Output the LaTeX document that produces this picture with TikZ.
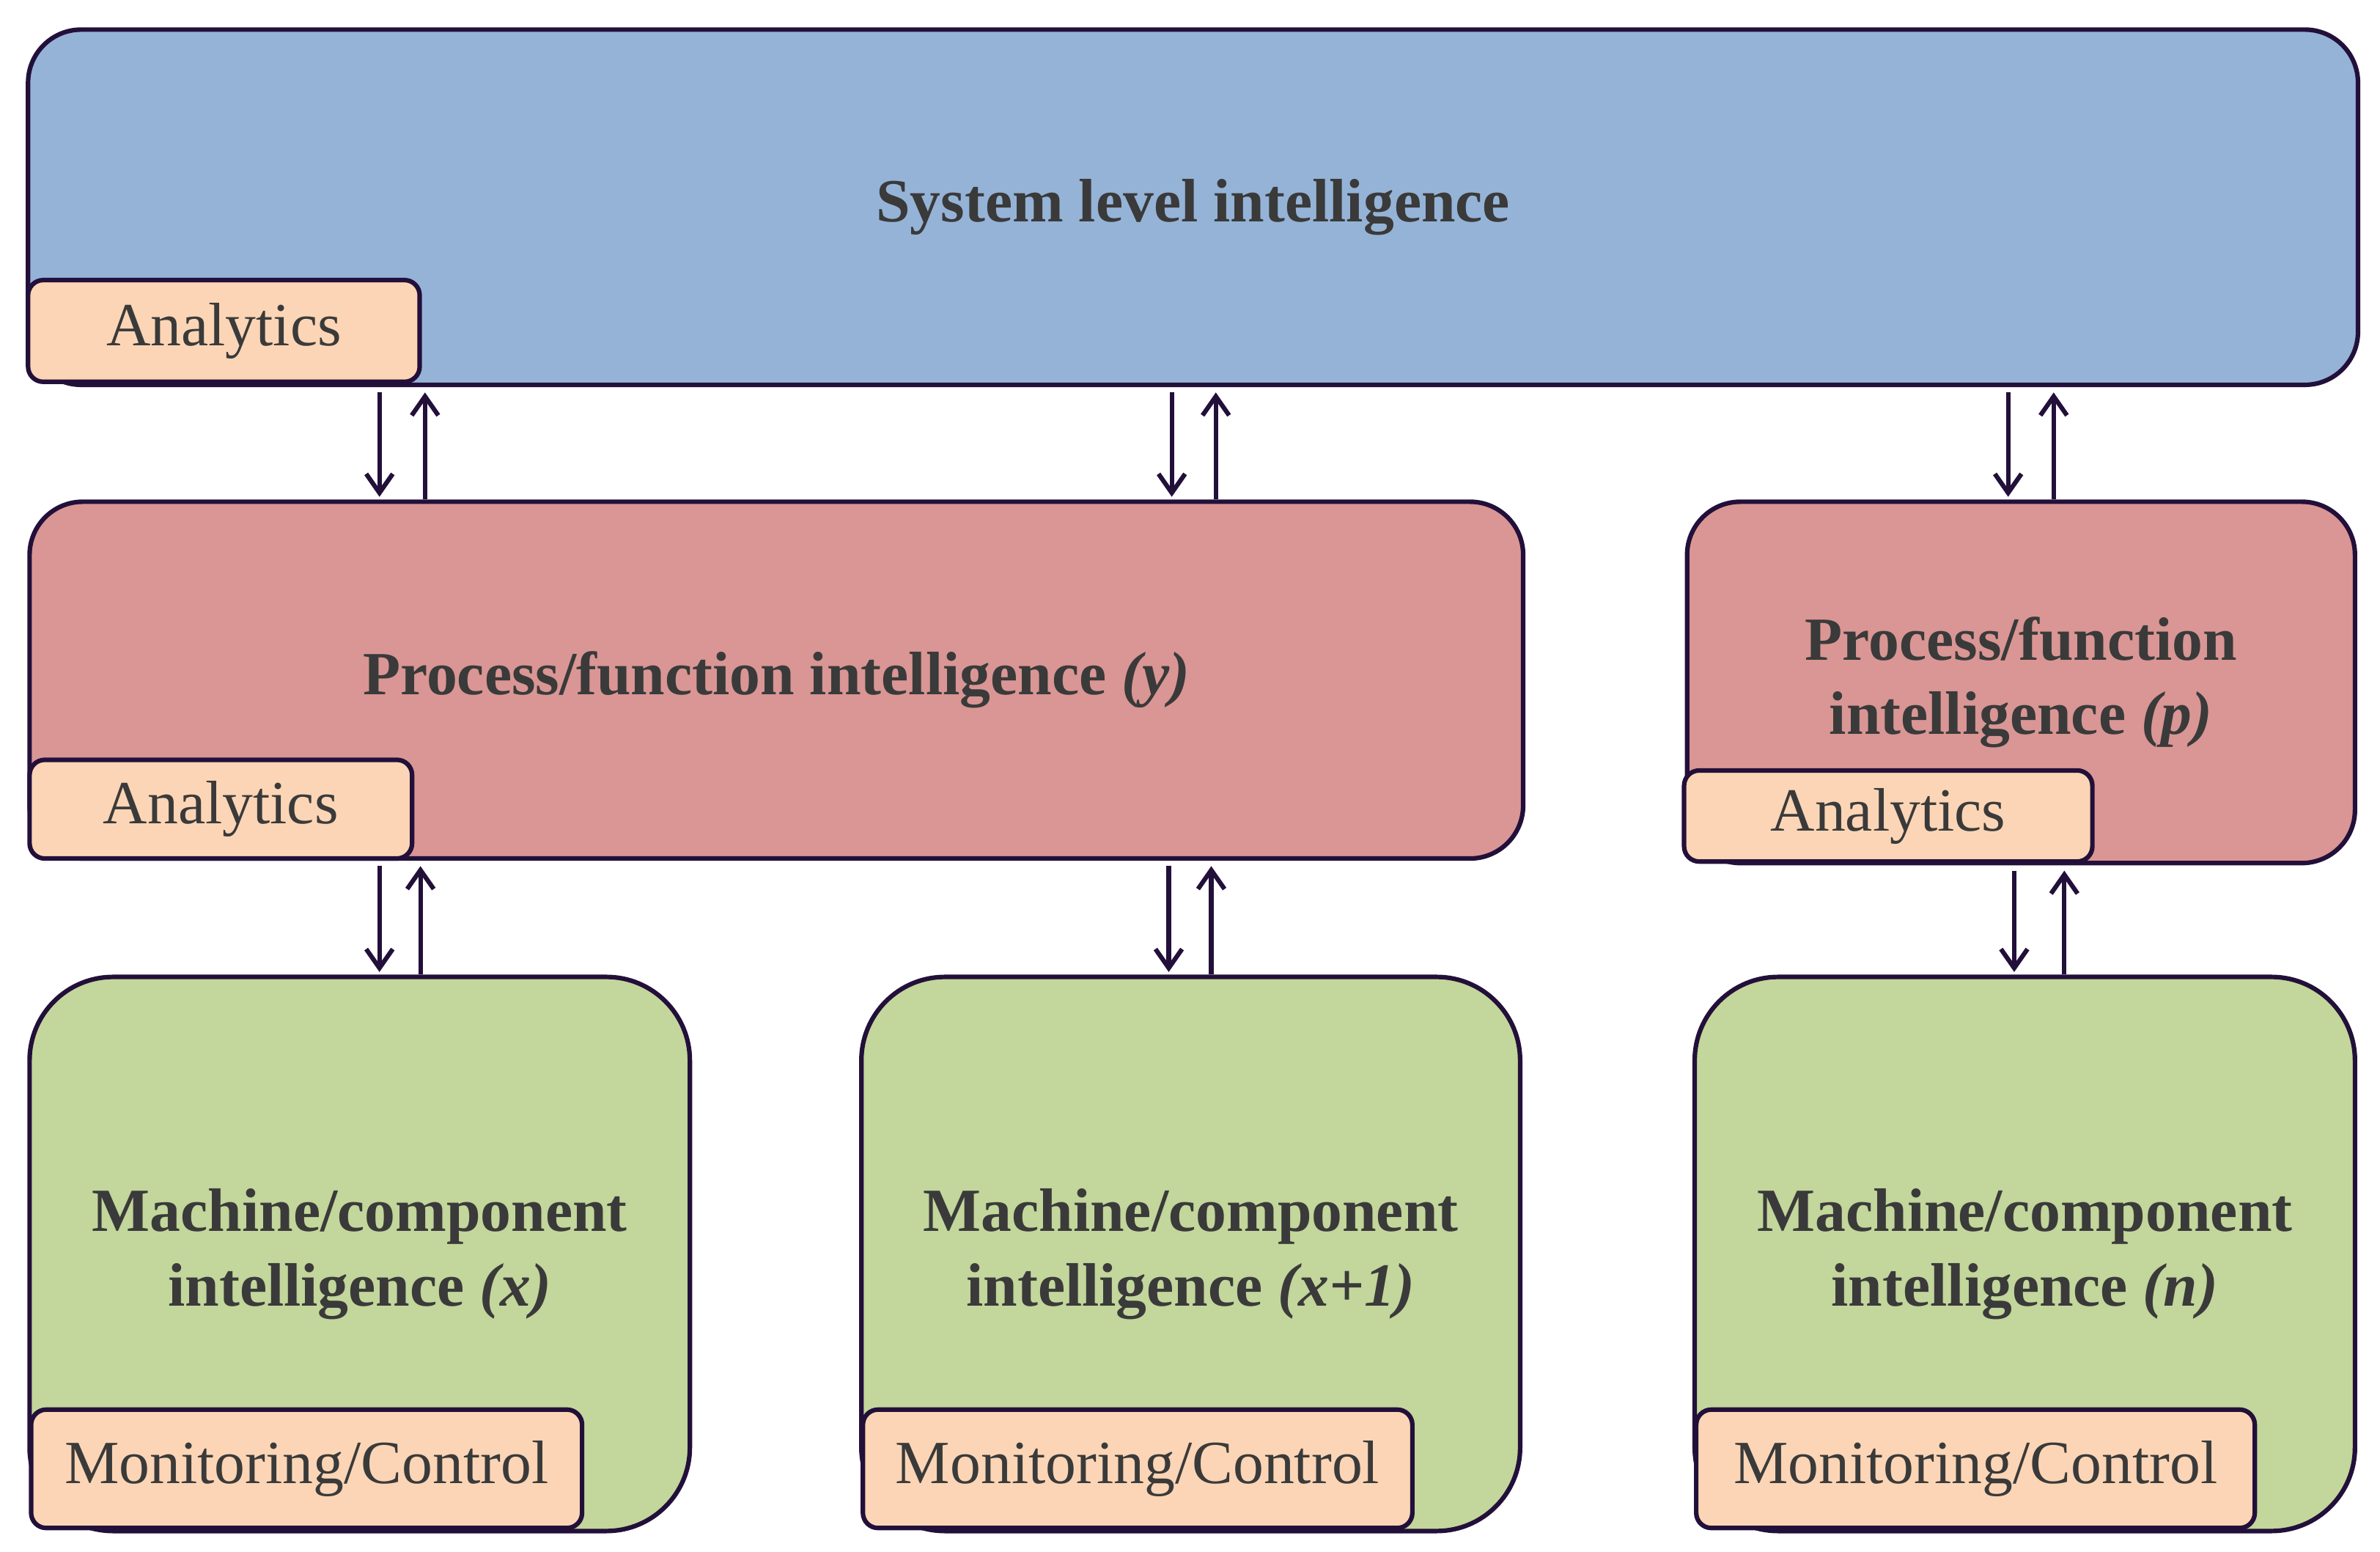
\documentclass[tikz,border=0pt]{standalone}
\usepackage{fontspec}
\setmainfont{Liberation Serif}
\usetikzlibrary{arrows.meta}
\definecolor{ln}{HTML}{22103A}
\definecolor{tx}{HTML}{3A3A3A}
\definecolor{cb}{HTML}{95B3D7}
\definecolor{cr}{HTML}{D99694}
\definecolor{cg}{HTML}{C3D69B}
\definecolor{cp}{HTML}{FBD5B5}
\begin{document}
\begin{tikzpicture}[x=0.02cm,y=-0.02cm,
  box/.style={draw=ln,line width=1.7pt,anchor=north west,inner sep=0pt,align=center,text=tx,font=\fontsize{23}{28}\selectfont\bfseries},
  tab/.style={draw=ln,line width=1.7pt,anchor=north west,fill=cp,rounded corners=0.2cm,inner sep=0pt,text=tx,font=\fontsize{23}{26}\selectfont},
  arr/.style={draw=ln,line width=1.7pt,-{Straight Barb[length=0.25cm,width=0.35cm]}}]
\useasboundingbox (0,0) rectangle (1568,1022);
\node[box,fill=cb,rounded corners=0.7cm,minimum width=1535*0.02cm,minimum height=234*0.02cm] (sys) at (17,18) {System level intelligence};
\node[tab,minimum width=258*0.02cm,minimum height=67*0.02cm] (asys) at (17,183) {Analytics};
\node[box,fill=cr,rounded corners=0.7cm,minimum width=984*0.02cm,minimum height=235*0.02cm] (pfy) at (18,329) {Process/function intelligence \textit{(y)}};
\node[tab,minimum width=252*0.02cm,minimum height=65*0.02cm] (apfy) at (18,499) {Analytics};
\node[box,fill=cr,rounded corners=0.7cm,minimum width=440*0.02cm,minimum height=238*0.02cm] (pfp) at (1110,329) {Process/function\\intelligence \textit{(p)}};
\node[tab,minimum width=269*0.02cm,minimum height=60*0.02cm] (apfp) at (1108,506) {Analytics};
\foreach \n/\xx/\w/\lab/\tw in {gx/18/435/x/363, gx1/566/434/x+1/362, gn/1115/435/n/368}{
  \node[box,fill=cg,rounded corners=1.1cm,minimum width=\w*0.02cm,minimum height=365*0.02cm] (\n) at (\xx,642) {Machine/component\\intelligence \textit{(\lab)}};
  \node[tab,minimum width=\tw*0.02cm,minimum height=78*0.02cm] (m\n) at (\xx+1,927) {Monitoring/Control};
}
\foreach \d/\u/\top/\bot in {250/280/sys/pfy, 772/801/sys/pfy, 1323/1353/sys/pfp, 250/277/pfy/gx, 770/798/pfy/gx1, 1327/1360/pfp/gn}{
  \coordinate (dd) at (\d,0); \coordinate (uu) at (\u,0);
  \path[arr,shorten <=2pt,shorten >=1pt] (\top.south -| dd) -- (\bot.north -| dd);
  \path[arr,shorten >=2pt] (\bot.north -| uu) -- (\top.south -| uu);
}
\end{tikzpicture}
\end{document}
